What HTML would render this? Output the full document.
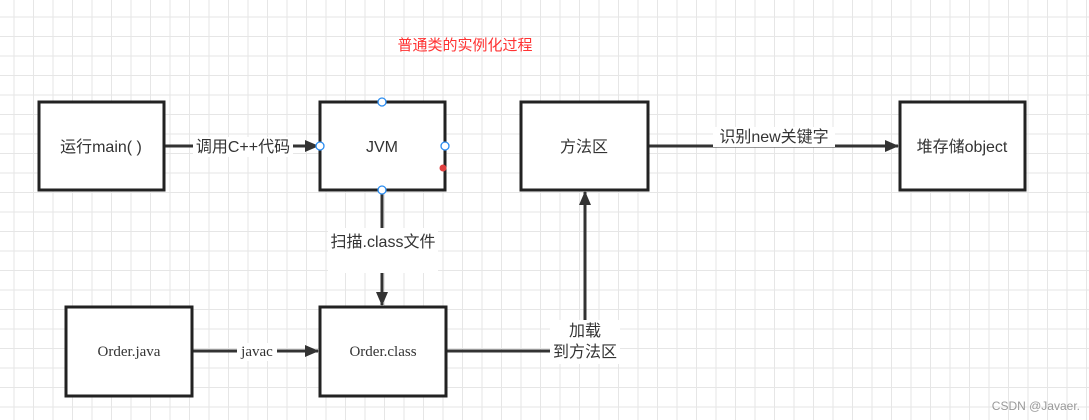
<!DOCTYPE html>
<html><head><meta charset="utf-8"><style>
body{margin:0;width:1089px;height:420px;overflow:hidden;background:#fff;
background-image:linear-gradient(#e6e6e6 1px,transparent 1px),linear-gradient(90deg,#e6e6e6 1px,transparent 1px);background-size:19.5px 19.5px;background-position:-6px -3px;}
svg{position:absolute;left:0;top:0}
text{font-family:"Liberation Sans","Noto Sans CJK SC",sans-serif;font-size:16px;fill:#333}
.s{font-family:"Liberation Serif","Noto Serif CJK SC",serif;font-size:15px}
rect.b{fill:#fff;stroke:#222;stroke-width:3}
line{stroke:#333;stroke-width:3}
</style></head><body>
<svg width="1089" height="420">
<defs>
<marker id="a2" markerWidth="14" markerHeight="14" refX="13" refY="7" orient="auto" markerUnits="userSpaceOnUse"><path d="M0,1 L14,7 L0,13z" fill="#333"/></marker></defs>
<text x="465" y="50" text-anchor="middle" style="fill:#f33;font-size:15px">普通类的实例化过程</text>
<line x1="164" y1="146" x2="318" y2="146" marker-end="url(#a2)"/>
<line x1="382" y1="190" x2="382" y2="305" marker-end="url(#a2)"/>
<line x1="446" y1="351" x2="585" y2="351"/>
<line x1="585" y1="351" x2="585" y2="192" marker-end="url(#a2)"/>
<line x1="648" y1="146" x2="898" y2="146" marker-end="url(#a2)"/>
<line x1="192" y1="351" x2="318" y2="351" marker-end="url(#a2)"/>
<rect class="b" x="39" y="102" width="125" height="88"/>
<rect class="b" x="320" y="102" width="125" height="88"/>
<rect class="b" x="521" y="102" width="127" height="88"/>
<rect class="b" x="900" y="102" width="125" height="88"/>
<rect class="b" x="66" y="307" width="126" height="89"/>
<rect class="b" x="320" y="307" width="126" height="89"/>
<text x="101" y="152" text-anchor="middle">运行main( )</text>
<text x="382" y="152" text-anchor="middle">JVM</text>
<text x="584" y="152" text-anchor="middle">方法区</text>
<text x="962" y="152" text-anchor="middle">堆存储object</text>
<text class="s" x="129" y="356" text-anchor="middle">Order.java</text>
<text class="s" x="383" y="356" text-anchor="middle">Order.class</text>
<rect x="193" y="137" width="100" height="20" fill="#fff"/>
<text x="243" y="152" text-anchor="middle">调用C++代码</text>
<rect x="328" y="228" width="110" height="45" fill="#fff"/>
<text x="383" y="247" text-anchor="middle">扫描.class文件</text>
<rect x="237" y="343" width="40" height="18" fill="#fff"/>
<text class="s" x="257" y="356" text-anchor="middle">javac</text>
<rect x="550" y="320" width="70" height="44" fill="#fff"/>
<text x="585" y="336" text-anchor="middle">加载</text>
<text x="585" y="357" text-anchor="middle">到方法区</text>
<rect x="713" y="127" width="122" height="20" fill="#fff"/>
<text x="774" y="142" text-anchor="middle">识别new关键字</text>
<g fill="#fff" stroke="#2a8cf0" stroke-width="1.3">
<circle cx="382" cy="102" r="4"/><circle cx="320" cy="146" r="4"/><circle cx="445" cy="146" r="4"/><circle cx="382" cy="190" r="4"/></g>
<circle cx="443" cy="168" r="3.5" fill="#e04040"/>
<text x="1080" y="410" text-anchor="end" style="font-size:12px;fill:#999">CSDN @Javaer.</text>
</svg>
</body></html>
